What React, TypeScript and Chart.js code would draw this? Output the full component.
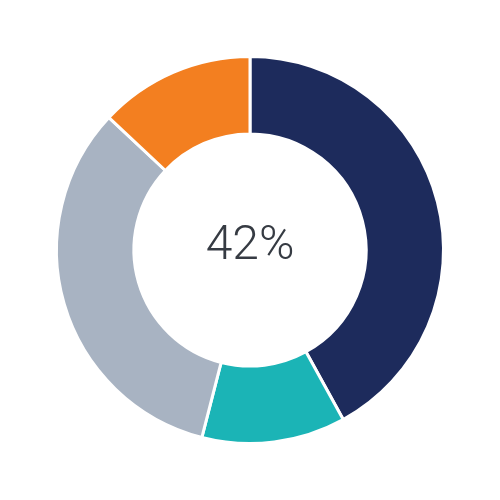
import { useEffect, useRef } from 'react';
import { Chart, type Plugin } from 'chart.js/auto';

const labels = ['Navy', 'Teal', 'Gray', 'Orange'];
const values = [42, 12, 33, 13];
const colors = ['#1d2b5c', '#1bb4b6', '#a8b3c2', '#f37f20'];
const centerLabel = '42%';

const centerText: Plugin<'doughnut'> = {
  id: 'centerText',
  afterDraw(chart) {
    const { ctx, chartArea } = chart;
    const x = (chartArea.left + chartArea.right) / 2;
    const y = (chartArea.top + chartArea.bottom) / 2;
    ctx.save();
    ctx.font = '300 48px Roboto, "Noto Sans", sans-serif';
    ctx.fillStyle = '#363b43';
    ctx.textAlign = 'center';
    ctx.textBaseline = 'middle';
    ctx.fillText(centerLabel, x, y - 3);
    ctx.restore();
  },
};

export default function App() {
  const canvas = useRef<HTMLCanvasElement>(null);

  useEffect(() => {
    document.body.style.margin = '0';
    const current = canvas.current;
    if (!current) return;
    const chart = new Chart(current, {
      type: 'doughnut',
      data: {
        labels,
        datasets: [
          {
            data: values,
            backgroundColor: colors,
            borderColor: '#ffffff',
            borderWidth: 3,
          },
        ],
      },
      options: {
        animation: false,
        responsive: true,
        maintainAspectRatio: false,
        cutout: '60%',
        layout: { padding: 55 },
        plugins: {
          legend: { display: false },
          tooltip: { enabled: false },
        },
      },
      plugins: [centerText],
    });
    return () => chart.destroy();
  }, []);

  return (
    <div style={{ width: 500, height: 500, background: '#fff' }}>
      <canvas ref={canvas}></canvas>
    </div>
  );
}
